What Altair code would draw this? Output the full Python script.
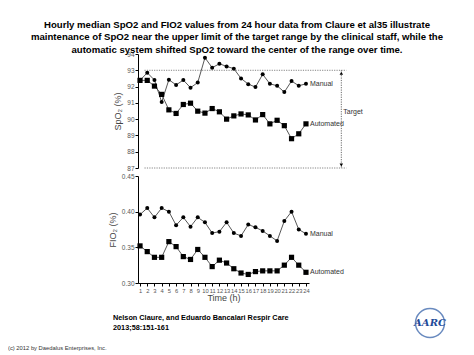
import altair as alt
import pandas as pd

hours = list(range(1, 25))
series_names = ["Manual", "Automated"]
spo2_manual = [92.38, 92.85, 92.4, 91.05, 92.42, 92.1, 92.4, 91.93, 92.25, 93.77, 93.16, 93.4,
               93.24, 93.1, 92.5, 92.15, 91.97, 92.75, 92.17, 92.05, 91.66, 92.34, 92.05, 92.17]
spo2_auto = [92.38, 92.38, 92.03, 91.52, 90.57, 90.35, 90.9, 90.98, 90.49, 90.37, 90.65, 90.45,
             90.0, 90.2, 90.32, 90.26, 89.95, 90.28, 89.71, 89.93, 89.6, 88.8, 89.1, 89.71]
fio2_manual = [0.396, 0.405, 0.392, 0.405, 0.400, 0.381, 0.392, 0.379, 0.392, 0.385, 0.370, 0.372,
               0.385, 0.370, 0.366, 0.382, 0.378, 0.373, 0.366, 0.359, 0.387, 0.400, 0.375, 0.369]
fio2_auto = [0.352, 0.344, 0.336, 0.336, 0.358, 0.351, 0.337, 0.333, 0.347, 0.336, 0.323, 0.332,
             0.328, 0.320, 0.314, 0.312, 0.316, 0.317, 0.317, 0.317, 0.325, 0.336, 0.325, 0.315]
target_range = [93, 87]
spo2_ticks = [87, 88, 89, 90, 91, 92, 93, 94]
fio2_ticks = [0.30, 0.35, 0.40, 0.45]

title_lines = [
    "Hourly median SpO2 and FIO2 values from 24 hour data from Claure et al35 illustrate",
    "maintenance of SpO2 near the upper limit of the target range by the clinical staff, while the",
    "automatic system shifted SpO2 toward the center of the range over time.",
]
citation_lines = ["Nelson Claure, and Eduardo Bancalari Respir Care", "2013;58:151-161"]
copyright_text = "(c) 2012 by Daedalus Enterprises, Inc."


def long_df(manual, auto):
    rows = []
    for h, m, a in zip(hours, manual, auto):
        rows.append({"hour": h, "series": "Manual", "value": m})
        rows.append({"hour": h, "series": "Automated", "value": a})
    return pd.DataFrame(rows)


spo2_df = long_df(spo2_manual, spo2_auto)
fio2_df = long_df(fio2_manual, fio2_auto)

# annotation frames (positions in data units of the shared scales)
ARROW_X = 28.9
target_df = pd.DataFrame({"value": target_range, "hour": [1.62, 1.62], "hour2": [29.6, 29.6]})
vrule_df = pd.DataFrame({"hour": [ARROW_X], "value": [target_range[0]], "value2": [target_range[1]]})
arrow_df = pd.DataFrame({"hour": [ARROW_X, ARROW_X], "value": [92.82, 87.18],
                         "dir": ["triangle-up", "triangle-down"]})
target_lab_df = pd.DataFrame({"hour": [ARROW_X], "value": [90.45], "label": ["Target"]})
one = pd.DataFrame({"a": [0]})

FONT = "Liberation Sans"
W = 171
xscale = alt.Scale(domain=[0.72, 24.42], nice=False, zero=False)
shape_scale = alt.Scale(domain=series_names, range=["circle", "square"])
size_scale = alt.Scale(domain=series_names, range=[16, 27])

axis_common = dict(domainColor="black", tickColor="black", tickSize=3, labelFontSize=6.5,
                   labelColor="#555555", labelFont=FONT, titleFont=FONT, titleFontSize=9,
                   titleColor="#444444", titleFontWeight="normal", grid=False, labelPadding=1)


def series_layers(df, yenc, xaxis):
    x = alt.X("hour:Q", scale=xscale, axis=xaxis)
    base = alt.Chart(df)
    line = base.mark_line(color="#444444", strokeWidth=0.9).encode(
        x=x, y=yenc, detail="series:N")
    pts = base.mark_point(filled=True, color="black", opacity=1).encode(
        x=x, y=yenc,
        shape=alt.Shape("series:N", scale=shape_scale, legend=None),
        size=alt.Size("series:N", scale=size_scale, legend=None))
    lab = base.transform_filter(alt.datum.hour == 24).mark_text(
        align="left", dx=4, fontSize=7, color="#333333", font=FONT).encode(
        x=x, y=yenc, text="series:N")
    return [line, pts, lab]


y_top = alt.Y("value:Q", scale=alt.Scale(domain=[87, 94], nice=False, zero=False),
              axis=alt.Axis(values=spo2_ticks, title="SpO₂ (%)", titlePadding=4, **axis_common))

top_layers = series_layers(spo2_df, y_top, None)
xq = alt.X("hour:Q", scale=xscale, axis=None)

rules = alt.Chart(target_df).mark_rule(strokeDash=[1.2, 1.2], color="#666666", strokeWidth=0.8).encode(
    x=xq, x2="hour2:Q", y=y_top)
vrule = alt.Chart(vrule_df).mark_rule(strokeDash=[1.2, 1.2], color="#444444", strokeWidth=0.8).encode(
    x=xq, y=y_top, y2="value2:Q")
arrows = alt.Chart(arrow_df).mark_point(filled=True, color="black", size=12, opacity=1).encode(
    x=xq, y=y_top,
    shape=alt.Shape("dir:N", scale=None, legend=None))
target_lab = alt.Chart(target_lab_df).mark_text(align="left", dx=2, fontSize=7, color="#333333",
                                                font=FONT).encode(
    x=xq, y=y_top, text="label:N")
title_txt = alt.Chart(one).mark_text(text=title_lines, lineHeight=12.3, fontSize=9.6, fontWeight="bold",
                                     align="center", baseline="alphabetic", font=FONT, color="black").encode(
    x=alt.value(99), y=alt.value(-26))

top = alt.layer(*top_layers, rules, vrule, arrows, target_lab, title_txt).properties(
    width=W, height=114)

y_bot = alt.Y("value:Q", scale=alt.Scale(domain=[0.30, 0.45], nice=False, zero=False),
              axis=alt.Axis(values=fio2_ticks, format=".2f", title="FIO₂ (%)", titlePadding=4, **axis_common))
x_axis_cfg = dict(axis_common)
x_axis_cfg["labelFontSize"] = 5.8
x_axis = alt.Axis(values=hours, title="Time (h)", labelOverlap=False, labelFlush=False,
                  titlePadding=1, **x_axis_cfg)
bot_layers = series_layers(fio2_df, y_bot, x_axis)

cite = alt.Chart(one).mark_text(text=citation_lines, lineHeight=9.5, fontSize=7.3, fontWeight="bold",
                                align="left", baseline="alphabetic", font=FONT, color="black").encode(
    x=alt.value(-25), y=alt.value(144))
copy_txt = alt.Chart(one).mark_text(text=copyright_text, fontSize=5.8, align="left", baseline="middle",
                                    font=FONT, color="#333333").encode(
    x=alt.value(-130), y=alt.value(172))
logo_ring = alt.Chart(one).mark_point(shape="circle", filled=False, color="#2b5aa5", strokeWidth=1.5,
                                      size=840).encode(x=alt.value(292), y=alt.value(147))
logo_txt = alt.Chart(one).mark_text(text="AARC", fontSize=10, fontWeight="bold", fontStyle="italic",
                                    font="DejaVu Serif", color="#1f4a99", align="center",
                                    baseline="middle").encode(x=alt.value(292), y=alt.value(147))

bottom = alt.layer(*bot_layers, cite, copy_txt, logo_ring, logo_txt).properties(width=W, height=107)

chart = alt.vconcat(top, bottom, spacing=1).properties(
    padding={"left": 0, "top": 12, "right": 0, "bottom": 0}
).configure_view(stroke=None)

chart.save("out.html", embed_options={"renderer": "svg", "actions": False})
